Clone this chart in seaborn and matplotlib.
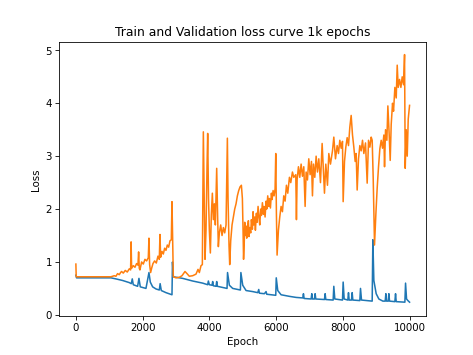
import matplotlib
matplotlib.use("Agg")
import matplotlib.pyplot as plt
import seaborn as sns

val_epoch = [0, 10, 500, 1050, 1150, 1200, 1250, 1300, 1340, 1370, 1420, 1480, 1540, 1600, 1640, 1655, 1670,
             1720, 1770, 1820, 1860, 1880, 1900, 1920, 1970, 2020, 2070, 2120, 2170, 2190, 2210, 2240, 2270,
             2310, 2360, 2410, 2460, 2500, 2520, 2540, 2580, 2620, 2660, 2700, 2740, 2780, 2820, 2860, 2880,
             2900, 2920, 3000, 3100, 3180, 3270, 3330, 3400, 3500, 3600, 3660, 3700, 3750, 3790, 3820, 3850,
             3870, 3900, 3930, 3950, 3975, 4000, 4030, 4060, 4090, 4120, 4150, 4180, 4220, 4250, 4270, 4300,
             4340, 4380, 4420, 4460, 4500, 4540, 4560, 4590, 4610, 4640, 4680, 4720, 4760, 4800, 4840, 4880,
             4920, 4960, 4990, 5010, 5025, 5045, 5060, 5080, 5100, 5120, 5140, 5170, 5190, 5210, 5240, 5260,
             5290, 5310, 5330, 5360, 5380, 5410, 5430, 5460, 5490, 5510, 5540, 5560, 5590, 5620, 5640, 5670,
             5700, 5720, 5750, 5780, 5800, 5830, 5860, 5880, 5910, 5940, 5970, 5990, 6010, 6030,
             6070, 6110, 6150, 6190, 6230, 6270, 6310, 6350, 6400, 6440, 6490, 6530, 6590, 6610, 6630, 6670,
             6710, 6750, 6790, 6830, 6870, 6900, 6940, 6980, 7020, 7060, 7090, 7120, 7160, 7200, 7240, 7280,
             7330, 7380, 7420, 7450, 7490, 7540, 7580, 7630, 7690, 7730, 7780, 7830, 7870, 7910, 7950, 7990,
             8010, 8050, 8090, 8130, 8170, 8210, 8250, 8290, 8330, 8370, 8400, 8430, 8470, 8510, 8550, 8590,
             8630, 8680, 8730, 8770, 8810, 8850, 8880, 8910, 8950, 8990, 9030, 9070, 9110, 9150, 9190, 9230,
             9250, 9280, 9320, 9350, 9390, 9420, 9450, 9490, 9520, 9560, 9600, 9630, 9660, 9700, 9740, 9780,
             9820, 9850, 9870, 9900, 9930, 9960, 10000]
val_loss = [0.96, 0.72, 0.72, 0.72, 0.74, 0.73, 0.78, 0.76, 0.80, 0.82, 0.79, 0.84, 0.81, 0.87, 0.85, 1.38, 0.88,
            0.93, 0.90, 0.97, 0.94, 1.19, 0.88, 0.85, 1.00, 0.96, 1.05, 1.02, 1.08, 1.45, 0.95, 0.80, 0.88,
            0.97, 1.02, 0.98, 1.11, 1.05, 1.52, 1.09, 1.20, 1.15, 1.26, 1.22, 1.32, 1.28, 1.40, 1.42, 2.14,
            1.42, 0.72, 0.70, 0.71, 0.74, 0.82, 0.78, 0.73, 0.74, 0.77, 0.86, 0.80, 0.93, 0.95, 3.46, 2.00,
            1.05, 1.60, 2.80, 3.43, 2.20, 1.60, 1.17, 1.90, 2.30, 1.80, 2.10, 1.70, 2.77, 1.80, 1.29, 1.55,
            1.70, 1.50, 1.65, 1.55, 1.70, 3.34, 2.20, 1.30, 0.95, 1.40, 1.70, 1.85, 2.00, 2.10, 2.25, 2.35,
            2.42, 2.45, 2.20, 1.60, 1.05, 1.35, 1.75, 1.50, 1.68, 1.45, 1.62, 1.78, 1.48, 1.65, 1.55, 1.80,
            1.62, 1.95, 1.70, 1.85, 1.60, 1.92, 1.75, 2.05, 1.82, 1.70, 2.00, 1.88, 2.12, 1.90, 2.05, 1.85,
            2.15, 2.00, 2.25, 2.05, 2.20, 2.02, 2.30, 2.18, 2.35, 2.25, 2.38, 3.05, 1.90, 1.13,
            1.60, 1.85, 2.05, 1.95, 2.25, 2.15, 2.45, 2.30, 2.60, 2.50, 2.70, 2.60, 2.65, 1.80, 2.55, 2.80,
            2.60, 2.85, 2.62, 2.80, 2.05, 2.70, 2.55, 2.95, 2.65, 2.90, 2.25, 2.85, 2.60, 3.00, 2.70, 2.95,
            2.50, 3.24, 2.70, 2.30, 2.85, 2.45, 3.05, 2.85, 3.10, 3.36, 2.95, 3.20, 3.05, 3.30, 3.15, 3.28,
            2.14, 2.90, 3.17, 3.35, 3.20, 3.55, 3.77, 3.40, 3.17, 2.90, 3.05, 2.36, 2.95, 3.20, 3.10, 3.30,
            3.05, 3.25, 2.49, 3.30, 3.17, 3.36, 3.30, 2.60, 1.32, 1.90, 2.40, 2.80, 3.14, 3.30, 3.15, 3.40,
            2.80, 3.50, 3.30, 3.95, 3.40, 2.92, 3.60, 4.00, 3.85, 4.30, 4.10, 4.72, 4.30, 4.45, 4.30, 4.50,
            4.35, 4.92, 2.77, 3.50, 3.00, 3.70, 3.96]

train_epoch = [0, 20, 1050, 1200, 1400, 1600, 1660, 1690, 1720, 1850, 1890, 1930, 2100, 2190, 2230, 2300, 2400,
               2500, 2525, 2560, 2700, 2880, 2895, 2920, 3200, 3500, 3800, 3950, 3970, 4000, 4080, 4100, 4120,
               4200, 4220, 4240, 4530, 4545, 4600, 4700, 4930, 4945, 5000, 5100, 5300, 5450, 5480, 5500, 5650,
               5700, 5720, 5990, 6005, 6050, 6150, 6400, 6600, 6800, 6820, 6840, 7050, 7070, 7090, 7150, 7170,
               7190, 7450, 7470, 7490, 7710, 7730, 7760, 7990, 8010, 8040, 8150, 8170, 8190, 8260, 8280, 8300,
               8510, 8530, 8560, 8880, 8900, 8930, 9000, 9080, 9200, 9270, 9290, 9310, 9360, 9380, 9400, 9560,
               9580, 9600, 9860, 9880, 9910, 9950, 10000]
train_loss = [0.75, 0.70, 0.70, 0.68, 0.65, 0.61, 0.59, 0.68, 0.57, 0.54, 0.69, 0.53, 0.50, 0.80, 0.62, 0.53, 0.49,
              0.47, 0.59, 0.46, 0.42, 0.38, 1.00, 0.72, 0.69, 0.64, 0.60, 0.57, 0.64, 0.57, 0.56, 0.63, 0.55,
              0.54, 0.63, 0.54, 0.50, 0.80, 0.56, 0.50, 0.47, 0.80, 0.56, 0.46, 0.44, 0.42, 0.48, 0.41, 0.40,
              0.44, 0.39, 0.37, 0.70, 0.46, 0.38, 0.35, 0.33, 0.32, 0.40, 0.31, 0.30, 0.40, 0.30, 0.30, 0.40,
              0.30, 0.29, 0.40, 0.29, 0.28, 0.54, 0.30, 0.28, 0.62, 0.30, 0.28, 0.42, 0.28, 0.28, 0.42, 0.28,
              0.27, 0.50, 0.28, 0.26, 1.42, 0.65, 0.40, 0.30, 0.26, 0.26, 0.40, 0.26, 0.26, 0.40, 0.26, 0.25,
              0.40, 0.25, 0.24, 0.60, 0.30, 0.27, 0.24]

fig, ax = plt.subplots(figsize=(6.4, 4.8), dpi=74)
sns.lineplot(x=train_epoch, y=train_loss, color="C0", ax=ax, linewidth=1.5)
sns.lineplot(x=val_epoch, y=val_loss, color="C1", ax=ax, linewidth=1.5)
ax.set_ylim(-0.02, 5.15)
ax.set_title("Train and Validation loss curve 1k epochs")
ax.set_xlabel("Epoch")
ax.set_ylabel("Loss")
fig.savefig("out.png", dpi=74)
